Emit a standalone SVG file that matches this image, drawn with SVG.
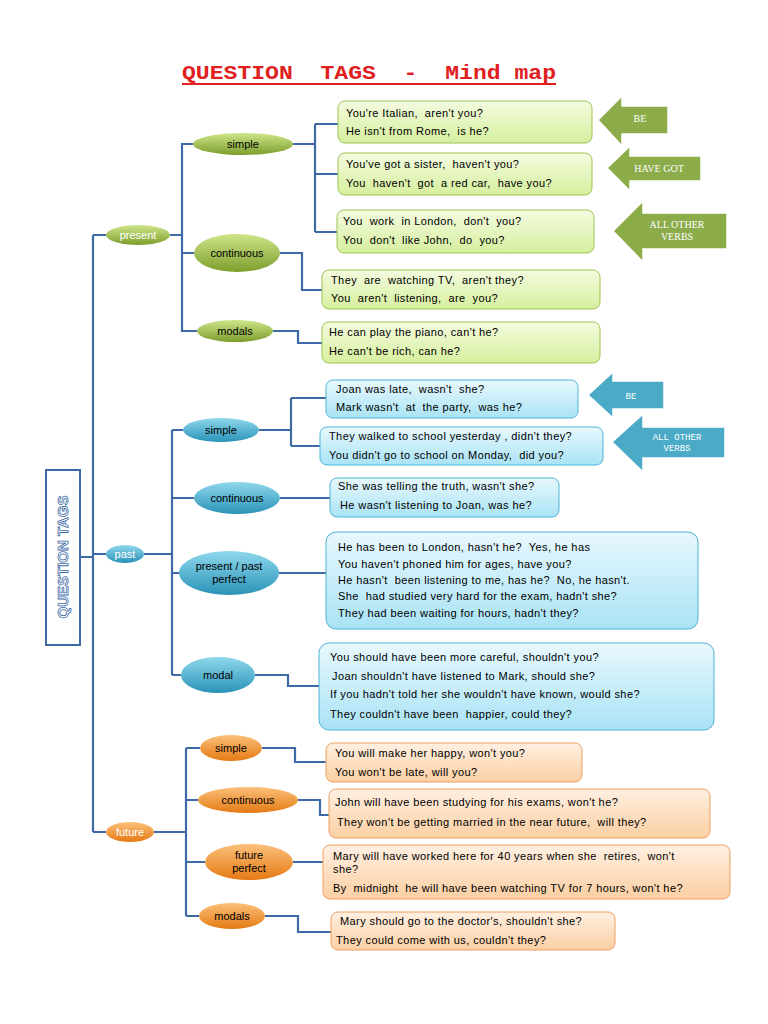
<svg xmlns="http://www.w3.org/2000/svg" width="768" height="1024" viewBox="0 0 768 1024">
<defs>
<linearGradient id="gg" x1="0" y1="0" x2="0" y2="1"><stop offset="0" stop-color="#cfe58a"/><stop offset="1" stop-color="#7d9e2c"/></linearGradient>
<linearGradient id="gb" x1="0" y1="0" x2="0" y2="1"><stop offset="0" stop-color="#8fd8ec"/><stop offset="1" stop-color="#2a93b8"/></linearGradient>
<linearGradient id="go" x1="0" y1="0" x2="0" y2="1"><stop offset="0" stop-color="#fbc07a"/><stop offset="1" stop-color="#e57a14"/></linearGradient>
<linearGradient id="bg" x1="0" y1="0" x2="0" y2="1"><stop offset="0" stop-color="#f4fbe0"/><stop offset="1" stop-color="#d6ef9e"/></linearGradient>
<linearGradient id="bb" x1="0" y1="0" x2="0" y2="1"><stop offset="0" stop-color="#e8f8fd"/><stop offset="1" stop-color="#a9e3f5"/></linearGradient>
<linearGradient id="bo" x1="0" y1="0" x2="0" y2="1"><stop offset="0" stop-color="#fff0e2"/><stop offset="1" stop-color="#fbcfa3"/></linearGradient>
</defs>
<style>
.t{font-family:"Liberation Sans",Arial,sans-serif;font-size:11px;letter-spacing:0.4px;fill:#000;white-space:pre}
.e{font-family:"Liberation Sans",Arial,sans-serif;font-size:11px;text-anchor:middle}
.w{fill:#fff}
.c{fill:none;stroke:#3e6aa6;stroke-width:2.2}
.g{fill:url(#bg);stroke:#9cc550;stroke-width:1}
.b{fill:url(#bb);stroke:#4fb3d9;stroke-width:1}
.o{fill:url(#bo);stroke:#eea060;stroke-width:1}
.ag{fill:#8cac4a;stroke:#fff;stroke-width:1.5}
.ab{fill:#4babc6;stroke:#fff;stroke-width:1.5}
.at{font-family:"Liberation Serif",serif;font-size:10px;fill:#fff;text-anchor:middle}
.am{font-family:"Liberation Mono",monospace;font-size:9px;fill:#fff;text-anchor:middle}
</style>
<rect width="768" height="1024" fill="#fff"/>
<g id="title"><text x="182" y="79" textLength="374" lengthAdjust="spacingAndGlyphs" font-family="Liberation Mono,monospace" font-size="20" font-weight="bold" fill="#e02020" style="white-space:pre">QUESTION  TAGS  -  Mind map</text><line x1="182" y1="84" x2="556" y2="84" stroke="#e02020" stroke-width="2"/></g>
<g id="connectors">
<path class="c" d="M80 557H93M93 235V832M93 235H106M93 554H106M93 832H106"/>
<path class="c" d="M170 235H182V144H193M182 253H194M182 235V331H197"/>
<path class="c" d="M293 144H315M315 124V232M315 124H338M315 174H338M315 232H337"/>
<path class="c" d="M280 253H302V290H322M273 331H298V343H322"/>
<path class="c" d="M144 554H172M172 430V675M172 430H183M172 498H194M172 573H179M172 675H181"/>
<path class="c" d="M259 430H291M291 398V446M291 398H326M291 446H320M280 498H330M279 573H326M255 675H288V686H319"/>
<path class="c" d="M154 832H186M186 748V916M186 748H200M186 800H198M186 862H205M186 916H199"/>
<path class="c" d="M262 748H295V762H326M298 800H320V815H329M293 862H323M265 916H298V932H331"/>
</g>
<g id="root"><rect x="46" y="470" width="34" height="175" fill="#fff" stroke="#3e6aa6" stroke-width="2"/><text transform="translate(68 557) rotate(-90)" text-anchor="middle" font-family="Liberation Sans,sans-serif" font-size="15" font-weight="bold" fill="#fff" stroke="#3e6aa6" stroke-width="0.8">QUESTION TAGS</text></g>
<g id="present"><ellipse cx="138" cy="235" rx="32" ry="10" fill="url(#gg)"/><text class="e w" x="138" y="239">present</text></g>
<g id="p-simple"><ellipse cx="243" cy="144" rx="50" ry="11" fill="url(#gg)"/><text class="e" x="243" y="148">simple</text></g>
<g id="p-cont"><ellipse cx="237" cy="253" rx="43" ry="19" fill="url(#gg)"/><text class="e" x="237" y="257">continuous</text></g>
<g id="p-modals"><ellipse cx="235" cy="331" rx="38" ry="11" fill="url(#gg)"/><text class="e" x="235" y="335">modals</text></g>
<g id="past"><ellipse cx="125" cy="554" rx="19" ry="9" fill="url(#gb)"/><text class="e w" x="125" y="558">past</text></g>
<g id="pa-simple"><ellipse cx="221" cy="430" rx="38" ry="12" fill="url(#gb)"/><text class="e" x="221" y="434">simple</text></g>
<g id="pa-cont"><ellipse cx="237" cy="498" rx="43" ry="16" fill="url(#gb)"/><text class="e" x="237" y="502">continuous</text></g>
<g id="pa-perf"><ellipse cx="229" cy="573" rx="50" ry="22" fill="url(#gb)"/><text class="e" x="229" y="570">present / past</text><text class="e" x="229" y="583">perfect</text></g>
<g id="pa-modal"><ellipse cx="218" cy="675" rx="37" ry="18" fill="url(#gb)"/><text class="e" x="218" y="679">modal</text></g>
<g id="future"><ellipse cx="130" cy="832" rx="24" ry="10" fill="url(#go)"/><text class="e w" x="130" y="836">future</text></g>
<g id="f-simple"><ellipse cx="231" cy="748" rx="31" ry="13" fill="url(#go)"/><text class="e" x="231" y="752">simple</text></g>
<g id="f-cont"><ellipse cx="248" cy="800" rx="50" ry="13" fill="url(#go)"/><text class="e" x="248" y="804">continuous</text></g>
<g id="f-perf"><ellipse cx="249" cy="862" rx="44" ry="18" fill="url(#go)"/><text class="e" x="249" y="859">future</text><text class="e" x="249" y="872">perfect</text></g>
<g id="f-modals"><ellipse cx="232" cy="916" rx="33" ry="13" fill="url(#go)"/><text class="e" x="232" y="920">modals</text></g>
<g id="b1"><rect class="g" x="338" y="101" width="254" height="42" rx="7"/><text class="t" x="346" y="117">You're Italian,  aren't you?</text><text class="t" x="346" y="135">He isn't from Rome,  is he?</text></g>
<g id="b2"><rect class="g" x="338" y="153" width="254" height="42" rx="7"/><text class="t" x="346" y="168">You've got a sister,  haven't you?</text><text class="t" x="346" y="187">You  haven't  got  a red car,  have you?</text></g>
<g id="b3"><rect class="g" x="337" y="210" width="257" height="43" rx="7"/><text class="t" x="343" y="225">You  work  in London,  don't  you?</text><text class="t" x="343" y="244">You  don't  like John,  do  you?</text></g>
<g id="b4"><rect class="g" x="322" y="270" width="278" height="39" rx="7"/><text class="t" x="331" y="284">They  are  watching TV,  aren't they?</text><text class="t" x="331" y="302">You  aren't  listening,  are  you?</text></g>
<g id="b5"><rect class="g" x="322" y="322" width="278" height="41" rx="7"/><text class="t" x="329" y="336">He can play the piano, can't he?</text><text class="t" x="329" y="355">He can't be rich, can he?</text></g>
<g id="b6"><rect class="b" x="326" y="380" width="252" height="38" rx="7"/><text class="t" x="336" y="393">Joan was late,  wasn't  she?</text><text class="t" x="336" y="411">Mark wasn't  at  the party,  was he?</text></g>
<g id="b7"><rect class="b" x="320" y="427" width="283" height="38" rx="7"/><text class="t" x="329" y="440">They walked to school yesterday , didn't they?</text><text class="t" x="329" y="459">You didn't go to school on Monday,  did you?</text></g>
<g id="b8"><rect class="b" x="330" y="478" width="229" height="39" rx="7"/><text class="t" x="338" y="490">She was telling the truth, wasn't she?</text><text class="t" x="340" y="509">He wasn't listening to Joan, was he?</text></g>
<g id="b9"><rect class="b" x="326" y="532" width="372" height="97" rx="10"/><text class="t" x="338" y="551">He has been to London, hasn't he?  Yes, he has</text><text class="t" x="338" y="568">You haven't phoned him for ages, have you?</text><text class="t" x="338" y="584">He hasn't  been listening to me, has he?  No, he hasn't.</text><text class="t" x="338" y="600">She  had studied very hard for the exam, hadn't she?</text><text class="t" x="338" y="617">They had been waiting for hours, hadn't they?</text></g>
<g id="b10"><rect class="b" x="319" y="643" width="395" height="87" rx="10"/><text class="t" x="330" y="661">You should have been more careful, shouldn't you?</text><text class="t" x="332" y="680">Joan shouldn't have listened to Mark, should she?</text><text class="t" x="330" y="698">If you hadn't told her she wouldn't have known, would she?</text><text class="t" x="330" y="718">They couldn't have been  happier, could they?</text></g>
<g id="b11"><rect class="o" x="326" y="743" width="256" height="39" rx="7"/><text class="t" x="335" y="757">You will make her happy, won't you?</text><text class="t" x="335" y="776">You won't be late, will you?</text></g>
<g id="b12"><rect class="o" x="329" y="789" width="381" height="49" rx="7"/><text class="t" x="335" y="806">John will have been studying for his exams, won't he?</text><text class="t" x="337" y="826">They won't be getting married in the near future,  will they?</text></g>
<g id="b13"><rect class="o" x="323" y="845" width="407" height="54" rx="7"/><text class="t" x="333" y="860">Mary will have worked here for 40 years when she  retires,  won't</text><text class="t" x="333" y="873">she?</text><text class="t" x="333" y="892">By  midnight  he will have been watching TV for 7 hours, won't he?</text></g>
<g id="b14"><rect class="o" x="331" y="912" width="284" height="38" rx="7"/><text class="t" x="340" y="925">Mary should go to the doctor's, shouldn't she?</text><text class="t" x="336" y="944">They could come with us, couldn't they?</text></g>
<g id="a1"><polygon class="ag" points="598,120 622,96 622,106 668,106 668,134 622,134 622,146"/><text class="at" x="640" y="122">BE</text></g>
<g id="a2"><polygon class="ag" points="607,168 630,146 630,156 701,156 701,181 630,181 630,191"/><text class="at" x="659" y="172">HAVE GOT</text></g>
<g id="a3"><polygon class="ag" points="613,231 643,201 643,213 727,213 727,249 643,249 643,262"/><text class="at" x="677" y="228">ALL OTHER</text><text class="at" x="677" y="240">VERBS</text></g>
<g id="a4"><polygon class="ab" points="588,395 613,372 613,381 664,381 664,409 613,409 613,418"/><text class="am" x="631" y="399">BE</text></g>
<g id="a5"><polygon class="ab" points="612,442 643,414 643,427 725,427 725,458 643,458 643,472"/><text class="am" x="677" y="440">ALL OTHER</text><text class="am" x="677" y="451">VERBS</text></g>
</svg>
